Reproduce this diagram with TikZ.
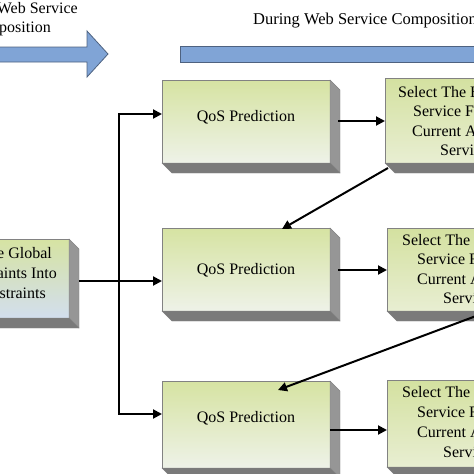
\documentclass[tikz,border=0pt]{standalone}
\usepackage{fontspec}
\setmainfont{Liberation Serif}
\usetikzlibrary{arrows.meta}
\definecolor{boxtop}{RGB}{214,227,162}
\definecolor{boxbot}{RGB}{238,242,232}
\definecolor{seltop}{RGB}{212,225,160}
\definecolor{selbot}{RGB}{232,238,210}
\definecolor{lefbot}{RGB}{210,222,238}
\definecolor{edgegray}{RGB}{130,130,130}
\definecolor{sidegray}{RGB}{150,150,150}
\definecolor{botgray}{RGB}{122,122,122}
\definecolor{arrowblue}{RGB}{128,164,214}
\definecolor{arrowedge}{RGB}{78,98,128}
\newcommand{\threeDside}[1]{%
  \filldraw[fill=sidegray, draw=edgegray, line width=0.4pt] (#1.north east) -- ++(10,10) -- ([shift={(10,10)}]#1.south east) -- (#1.south east) -- cycle;
  \filldraw[fill=botgray, draw=edgegray, line width=0.4pt] (#1.south west) -- (#1.south east) -- ++(10,10) -- ([shift={(10,10)}]#1.south west) -- cycle;}
\begin{document}
\begin{tikzpicture}[x=1pt,y=-1pt,
  font=\fontsize{16}{19.5}\selectfont,
  box/.style={draw=edgegray, line width=0.6pt, top color=boxtop, bottom color=boxbot,
    minimum width=168pt, inner sep=0pt, outer sep=0pt},
  selbox/.style={box, top color=seltop, bottom color=selbot},
  arr/.style={draw=black, line width=2pt, -{Triangle[length=9pt,width=9pt]}},
  ln/.style={draw=black, line width=2pt},
  txt/.style={inner sep=0pt, anchor=base},
  bigarrow/.style={fill=arrowblue, draw=arrowedge, line width=0.8pt}]
\useasboundingbox (0,0) rectangle (474,474);
\clip (0,0) rectangle (474,474);
% phase arrows
\path[bigarrow] (-10,47) -- (87,47) -- (87,31) -- (108,54) -- (87,77) -- (87,62) -- (-10,62) -- cycle;
\path[bigarrow] (180,46) rectangle (490,62);
\node[txt, anchor=base east] (t1) at (78,13) {Before Web Service};
\node[txt, anchor=base east] (t2) at (51,32) {Composition};
\node[txt, anchor=base west, font=\fontsize{16.5}{20}\selectfont] (t3) at (253,24) {During Web Service Composition};
% boxes
\node[box, bottom color=lefbot, minimum width=169pt, minimum height=79pt] (d) at (-15.5,278.5) {};
\threeDside{d}
\node[box, minimum height=83pt] (q1) at (246,121.5) {};
\threeDside{q1}
\node[box, minimum height=83pt] (q2) at (246,269.5) {};
\threeDside{q2}
\node[box, minimum height=87pt] (q3) at (246,424.5) {};
\threeDside{q3}
\node[selbox, minimum height=85pt] (s1) at (469,120.5) {};
\threeDside{s1}
\node[selbox, minimum height=83pt] (s2) at (471,269.5) {};
\threeDside{s2}
\node[selbox, minimum height=87pt] (s3) at (471,423.5) {};
\threeDside{s3}
% texts
\node[txt, anchor=base east] (d1) at (52,258) {Decompose The Global};
\node[txt, anchor=base east] (d2) at (57,278) {Constraints Into};
\node[txt, anchor=base east] (d3) at (46,298) {Local Constraints};
\node[txt] (q1t) at (246,121) {QoS Prediction};
\node[txt] (q2t) at (246,274) {QoS Prediction};
\node[txt] (q3t) at (246,422) {QoS Prediction};
\node[txt, anchor=base west] (s1a) at (398,97) {Select The Best};
\node[txt, anchor=base west] (s1b) at (413,116.5) {Service For};
\node[txt, anchor=base west] (s1c) at (412,136) {Current Abstract};
\node[txt, anchor=base west] (s1d) at (440,155.5) {Service};
\node[txt, anchor=base west] (s2a) at (402,245) {Select The Best};
\node[txt, anchor=base west] (s2b) at (417,264.5) {Service For};
\node[txt, anchor=base west] (s2c) at (417,284) {Current Abstract};
\node[txt, anchor=base west] (s2d) at (443,303.5) {Service};
\node[txt, anchor=base west] (s3a) at (402,397) {Select The Best};
\node[txt, anchor=base west] (s3b) at (417,417) {Service For};
\node[txt, anchor=base west] (s3c) at (417,437) {Current Abstract};
\node[txt, anchor=base west] (s3d) at (443,457) {Service};
% connectors
\coordinate (j) at (119,281);
\coordinate (b1) at (119,114);
\coordinate (b3) at (119,414);
\coordinate (dj) at ([xshift=10pt]d.east);
\draw[ln] (j -| dj) -- (j);
\draw[arr] (j) -- (j -| q2.west);
\draw[arr] (j) -- (b1) -- (b1 -| q1.west);
\draw[arr] (j) -- (b3) -- (b3 -| q3.west);
\coordinate (q1e) at ([xshift=8pt,yshift=0.5pt]q1.east);
\coordinate (q2e) at ([xshift=8pt,yshift=-0.5pt]q2.east);
\coordinate (q3e) at ([yshift=-5.5pt]q3.east);
\draw[arr] (q1e) -- (q1e -| s1.west);
\draw[arr] (q2e) -- (q2e -| s2.west);
\draw[arr] (q3e) -- (q3e -| s3.west);
\draw[arr] ([shift={(3,5)}]s1.south west) -- ([shift={(36,1)}]q2.north);
\draw[arr] ([shift={(89,5)}]s2.south west) -- ([shift={(32,9)}]q3.north);
\end{tikzpicture}
\end{document}
